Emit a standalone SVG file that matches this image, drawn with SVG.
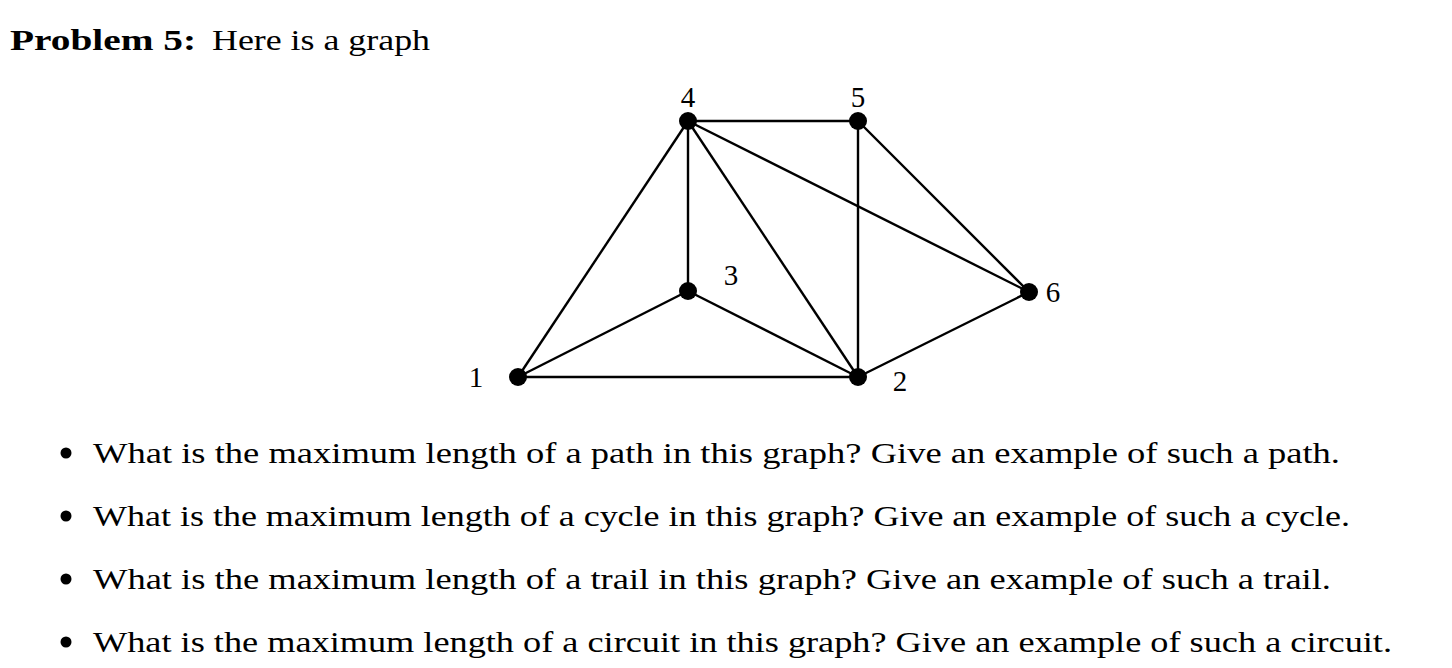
<svg xmlns="http://www.w3.org/2000/svg" width="1452" height="668" viewBox="0 0 1452 668">
<style>
.t{font-size:30px;fill:#000}
.b{font-weight:bold}
.lbl{font-size:29px;fill:#000}
.e{stroke:#000;stroke-width:2.4;fill:none}
.n{fill:#000}
</style>
<rect width="1452" height="668" fill="#fff"/>
<g font-family="Liberation Serif, Times New Roman, Times, serif">
<text class="t b" x="10" y="50" textLength="186" lengthAdjust="spacingAndGlyphs">Problem 5:</text>
<text class="t" x="212" y="50" textLength="218" lengthAdjust="spacingAndGlyphs">Here is a graph</text>
<g id="edges">
<line class="e" x1="688" y1="121" x2="858" y2="121"/>
<line class="e" x1="688" y1="121" x2="688" y2="291"/>
<line class="e" x1="688" y1="121" x2="518" y2="377"/>
<line class="e" x1="688" y1="121" x2="858" y2="377"/>
<line class="e" x1="688" y1="121" x2="1029" y2="292"/>
<line class="e" x1="858" y1="121" x2="858" y2="377"/>
<line class="e" x1="858" y1="121" x2="1029" y2="292"/>
<line class="e" x1="688" y1="291" x2="518" y2="377"/>
<line class="e" x1="688" y1="291" x2="858" y2="377"/>
<line class="e" x1="518" y1="377" x2="858" y2="377"/>
<line class="e" x1="858" y1="377" x2="1029" y2="292"/>
</g>
<g id="node1"><circle class="n" cx="518" cy="377" r="9"/><text class="lbl" x="476" y="387" text-anchor="middle">1</text></g>
<g id="node2"><circle class="n" cx="858" cy="377" r="9"/><text class="lbl" x="900" y="391" text-anchor="middle">2</text></g>
<g id="node3"><circle class="n" cx="688" cy="291" r="9"/><text class="lbl" x="731" y="285" text-anchor="middle">3</text></g>
<g id="node4"><circle class="n" cx="688" cy="121" r="9"/><text class="lbl" x="688" y="107" text-anchor="middle">4</text></g>
<g id="node5"><circle class="n" cx="858" cy="121" r="9"/><text class="lbl" x="858" y="107" text-anchor="middle">5</text></g>
<g id="node6"><circle class="n" cx="1029" cy="292" r="9"/><text class="lbl" x="1053" y="302" text-anchor="middle">6</text></g>
<g id="questions">
<circle class="n" cx="66" cy="453" r="5.5"/>
<text class="t" x="93" y="463" textLength="1247" lengthAdjust="spacingAndGlyphs">What is the maximum length of a path in this graph? Give an example of such a path.</text>
<circle class="n" cx="66" cy="516" r="5.5"/>
<text class="t" x="93" y="526" textLength="1257" lengthAdjust="spacingAndGlyphs">What is the maximum length of a cycle in this graph? Give an example of such a cycle.</text>
<circle class="n" cx="66" cy="579" r="5.5"/>
<text class="t" x="93" y="589" textLength="1238" lengthAdjust="spacingAndGlyphs">What is the maximum length of a trail in this graph? Give an example of such a trail.</text>
<circle class="n" cx="66" cy="642" r="5.5"/>
<text class="t" x="93" y="652" textLength="1299" lengthAdjust="spacingAndGlyphs">What is the maximum length of a circuit in this graph? Give an example of such a circuit.</text>
</g>
</g>
</svg>
